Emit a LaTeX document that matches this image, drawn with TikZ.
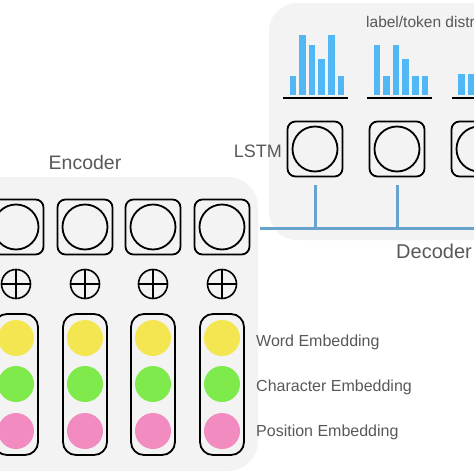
\documentclass[tikz,border=0pt]{standalone}
\usepackage{fontspec}
\setmainfont{Liberation Sans}
\usepackage{tikz}
\definecolor{panelgray}{RGB}{243,243,243}
\definecolor{barblue}{RGB}{82,183,245}
\definecolor{busblue}{RGB}{104,163,206}
\definecolor{wordyellow}{RGB}{244,230,80}
\definecolor{chargreen}{RGB}{126,234,76}
\definecolor{pospink}{RGB}{241,139,192}
\definecolor{textgray}{RGB}{88,88,88}

\begin{document}
\begin{tikzpicture}[x=1pt,y=-1pt,
    cell/.style={draw,line width=1.8pt,rounded corners=8pt,minimum size=55pt,inner sep=0pt},
    oplus/.style={draw,circle,line width=1.6pt,minimum size=29pt,inner sep=0pt},
    column/.style={draw,line width=1.8pt,rounded corners=13pt,minimum width=44pt,minimum height=141pt,inner sep=0pt},
    lbl/.style={text=textgray,inner sep=0pt,font=\fontsize{16}{18}\selectfont}]
    \useasboundingbox (0,0) rectangle (474,474);
    \clip (0,0) rectangle (474,474);
    % panels
    \fill[panelgray,rounded corners=30pt] (-40,177) rectangle (258,471);
    \fill[panelgray,rounded corners=28pt] (269,3) rectangle (530,240);

    % decoder side
    \foreach \i/\x in {1/315,2/397,3/479} {
        \node[cell] (d\i) at (\x,149) {};
        \draw[line width=1.8pt] (d\i) circle (22.5pt);
    }
    \foreach \c/\hs in {315.5/{76,35,45,59,35,76},399.5/{45,76,45,59,76,76},484/{74,74,45,59,76,76}} {
        \foreach \t [count=\k from 0] in \hs
            \fill[barblue] (\c-26+9.6*\k,95) rectangle (\c-26+9.6*\k+6.7,\t);
        \draw[line width=2pt] (\c-32.5,98) -- (\c+32.5,98);
    }
    \coordinate (busL) at (260,228);
    \coordinate (busR) at (490,228);
    \draw[busblue,line width=3pt] (busL) -- (busR);
    \foreach \i in {1,2,3}
        \draw[busblue,line width=3pt] ([yshift=-8pt]d\i.south) -- (d\i.south |- busL);

    \node[lbl,anchor=base west,font=\fontsize{15.5}{18}\selectfont] (dist) at (366,27) {label/token distribution};
    \node[lbl,anchor=base east,font=\fontsize{18}{20}\selectfont] (lstm) at (282,157) {LSTM};
    \node[lbl,anchor=base,font=\fontsize{20}{22}\selectfont] (dec) at (434,258) {Decoder};

    % encoder side
    \node[lbl,anchor=base,font=\fontsize{19.5}{22}\selectfont] (enc) at (85,169.5) {Encoder};
    \foreach \i/\x in {1/16,2/85,3/153,4/222} {
        \node[cell] (e\i) at (\x,227) {};
        \draw[line width=1.8pt] (e\i) circle (22.5pt);
        \node[oplus] (p\i) at (\x,284) {};
        \draw[line width=1.6pt] (p\i.north) -- (p\i.south) (p\i.west) -- (p\i.east);
        \node[column] (emb\i) at (\x,384.5) {};
        \fill[wordyellow] (\x,338) circle (18pt);
        \fill[chargreen] (\x,384) circle (18pt);
        \fill[pospink] (\x,431) circle (18pt);
    }
    \node[lbl,anchor=base west] (word) at (256,346) {Word Embedding};
    \node[lbl,anchor=base west] (char) at (256,391) {Character Embedding};
    \node[lbl,anchor=base west] (pos) at (256,436) {Position Embedding};
\end{tikzpicture}
\end{document}
